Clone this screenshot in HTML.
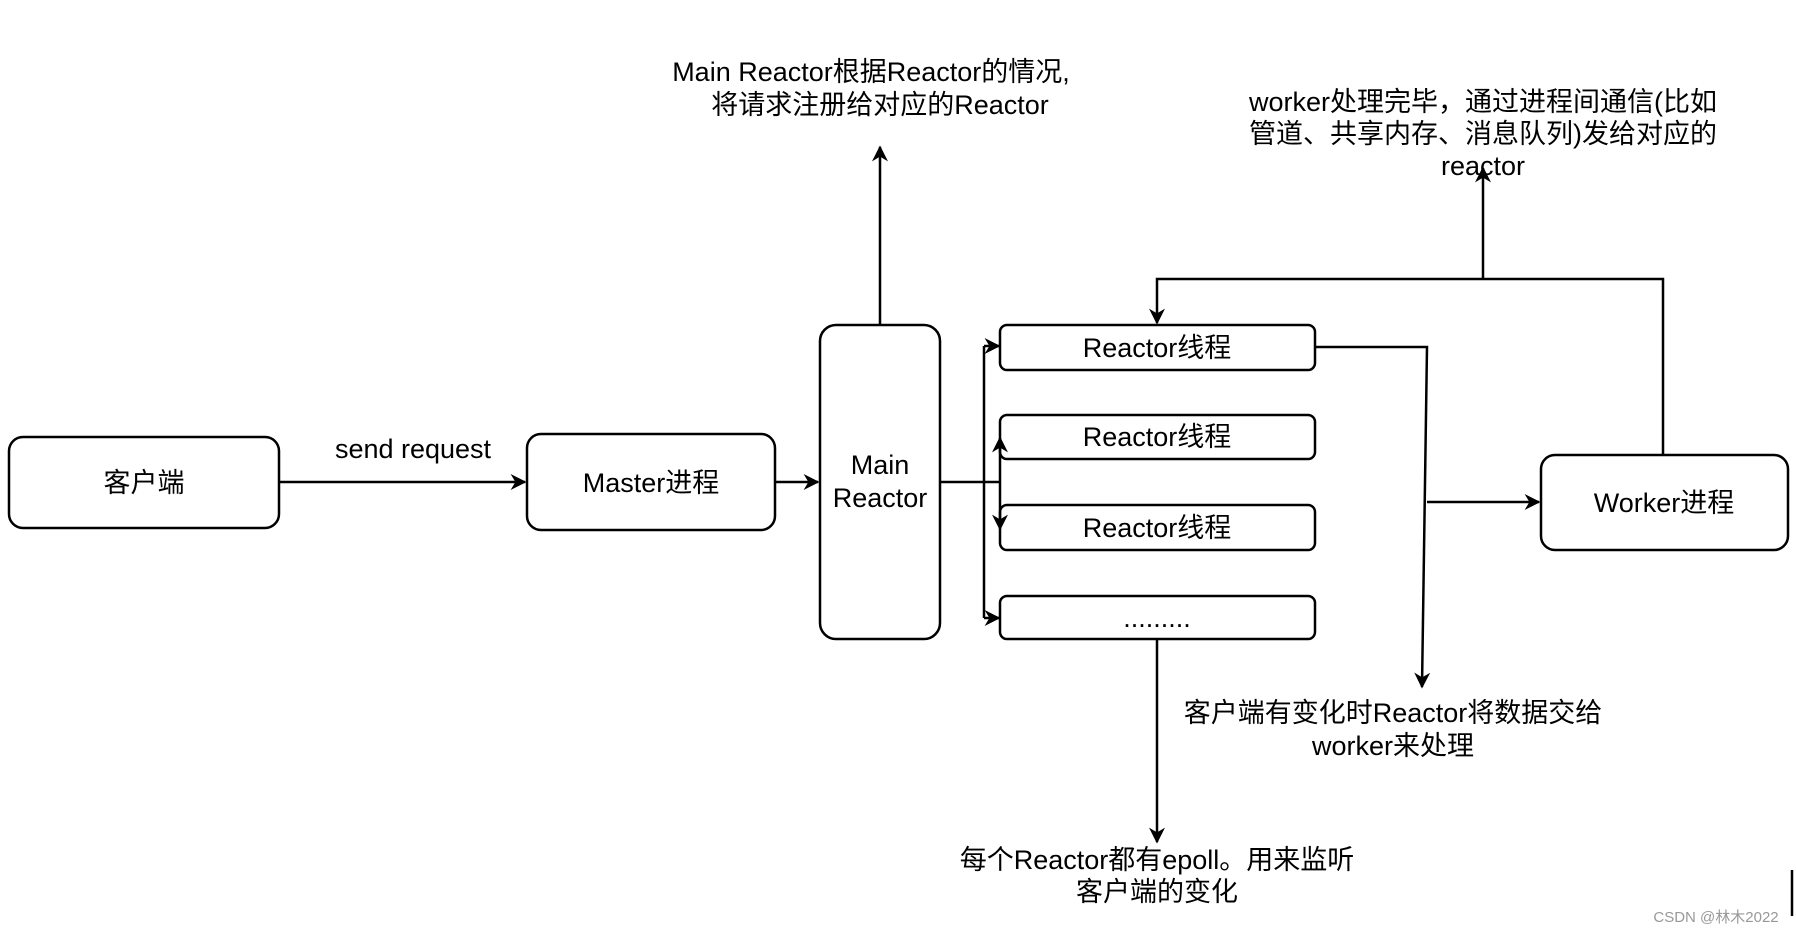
<!DOCTYPE html>
<html><head><meta charset="utf-8"><style>
html,body{margin:0;padding:0;background:#fff;}
svg{display:block;}
text{font-family:"Liberation Sans","Noto Sans CJK SC",sans-serif;font-size:27px;fill:#000;}
</style></head><body>
<svg width="1796" height="934" viewBox="0 0 1796 934" xmlns="http://www.w3.org/2000/svg">
<defs>
<marker id="a" viewBox="0 0 10 10" refX="9" refY="5" markerWidth="16" markerHeight="16" orient="auto-start-reverse" markerUnits="userSpaceOnUse">
<path d="M0,0 L10,5 L0,10 L3,5 Z" fill="#000"/></marker>
</defs>
<g fill="#fff" stroke="#000" stroke-width="2.5">
<rect x="9" y="437" width="270" height="91" rx="14"/>
<rect x="527" y="434" width="248" height="96" rx="14"/>
<rect x="820" y="325" width="120" height="314" rx="16"/>
<rect x="1000" y="325" width="315" height="45" rx="7"/>
<rect x="1000" y="415" width="315" height="44" rx="7"/>
<rect x="1000" y="505" width="315" height="45" rx="7"/>
<rect x="1000" y="596" width="315" height="43" rx="7"/>
<rect x="1541" y="455" width="247" height="95" rx="14"/>
</g>
<g stroke="#000" stroke-width="2.5" fill="none">
<line x1="279" y1="482" x2="525" y2="482" marker-end="url(#a)"/>
<line x1="775" y1="482" x2="818" y2="482" marker-end="url(#a)"/>
<line x1="880" y1="325" x2="880" y2="147" marker-end="url(#a)"/>
<line x1="940" y1="482" x2="1000" y2="482"/>
<line x1="984" y1="346" x2="984" y2="618"/>
<line x1="984" y1="346" x2="999" y2="346" marker-end="url(#a)"/>
<line x1="984" y1="618" x2="999" y2="618" marker-end="url(#a)"/>
<line x1="1000" y1="482" x2="1000" y2="438" marker-end="url(#a)"/>
<line x1="1000" y1="482" x2="1000" y2="529" marker-end="url(#a)"/>
<polyline points="1315,347 1427,347 1422,687" marker-end="url(#a)"/>
<line x1="1427" y1="502" x2="1539" y2="502" marker-end="url(#a)"/>
<polyline points="1663,455 1663,279 1157,279 1157,323" marker-end="url(#a)"/>
<line x1="1483" y1="279" x2="1483" y2="168" marker-end="url(#a)"/>
<line x1="1157" y1="639" x2="1157" y2="842" marker-end="url(#a)"/>
<line x1="1792" y1="870" x2="1792" y2="916"/>
</g>
<g text-anchor="middle">
<text x="144" y="492">客户端</text>
<text x="651" y="492">Master进程</text>
<text x="880" y="474">Main</text>
<text x="880" y="507">Reactor</text>
<text x="1157" y="357">Reactor线程</text>
<text x="1157" y="446">Reactor线程</text>
<text x="1157" y="537">Reactor线程</text>
<text x="1157" y="627">.........</text>
<text x="1664" y="512">Worker进程</text>
<text x="413" y="458">send request</text>
<text x="871" y="81">Main Reactor根据Reactor的情况,</text>
<text x="880" y="114">将请求注册给对应的Reactor</text>
<text x="1483" y="111">worker处理完毕，通过进程间通信(比如</text>
<text x="1483" y="143">管道、共享内存、消息队列)发给对应的</text>
<text x="1483" y="175">reactor</text>
<text x="1393" y="722">客户端有变化时Reactor将数据交给</text>
<text x="1393" y="755">worker来处理</text>
<text x="1157" y="869">每个Reactor都有epoll。用来监听</text>
<text x="1157" y="901">客户端的变化</text>
<text x="1716" y="922" style="font-size:15px;fill:#999">CSDN @林木2022</text>
</g>
</svg>
</body></html>
